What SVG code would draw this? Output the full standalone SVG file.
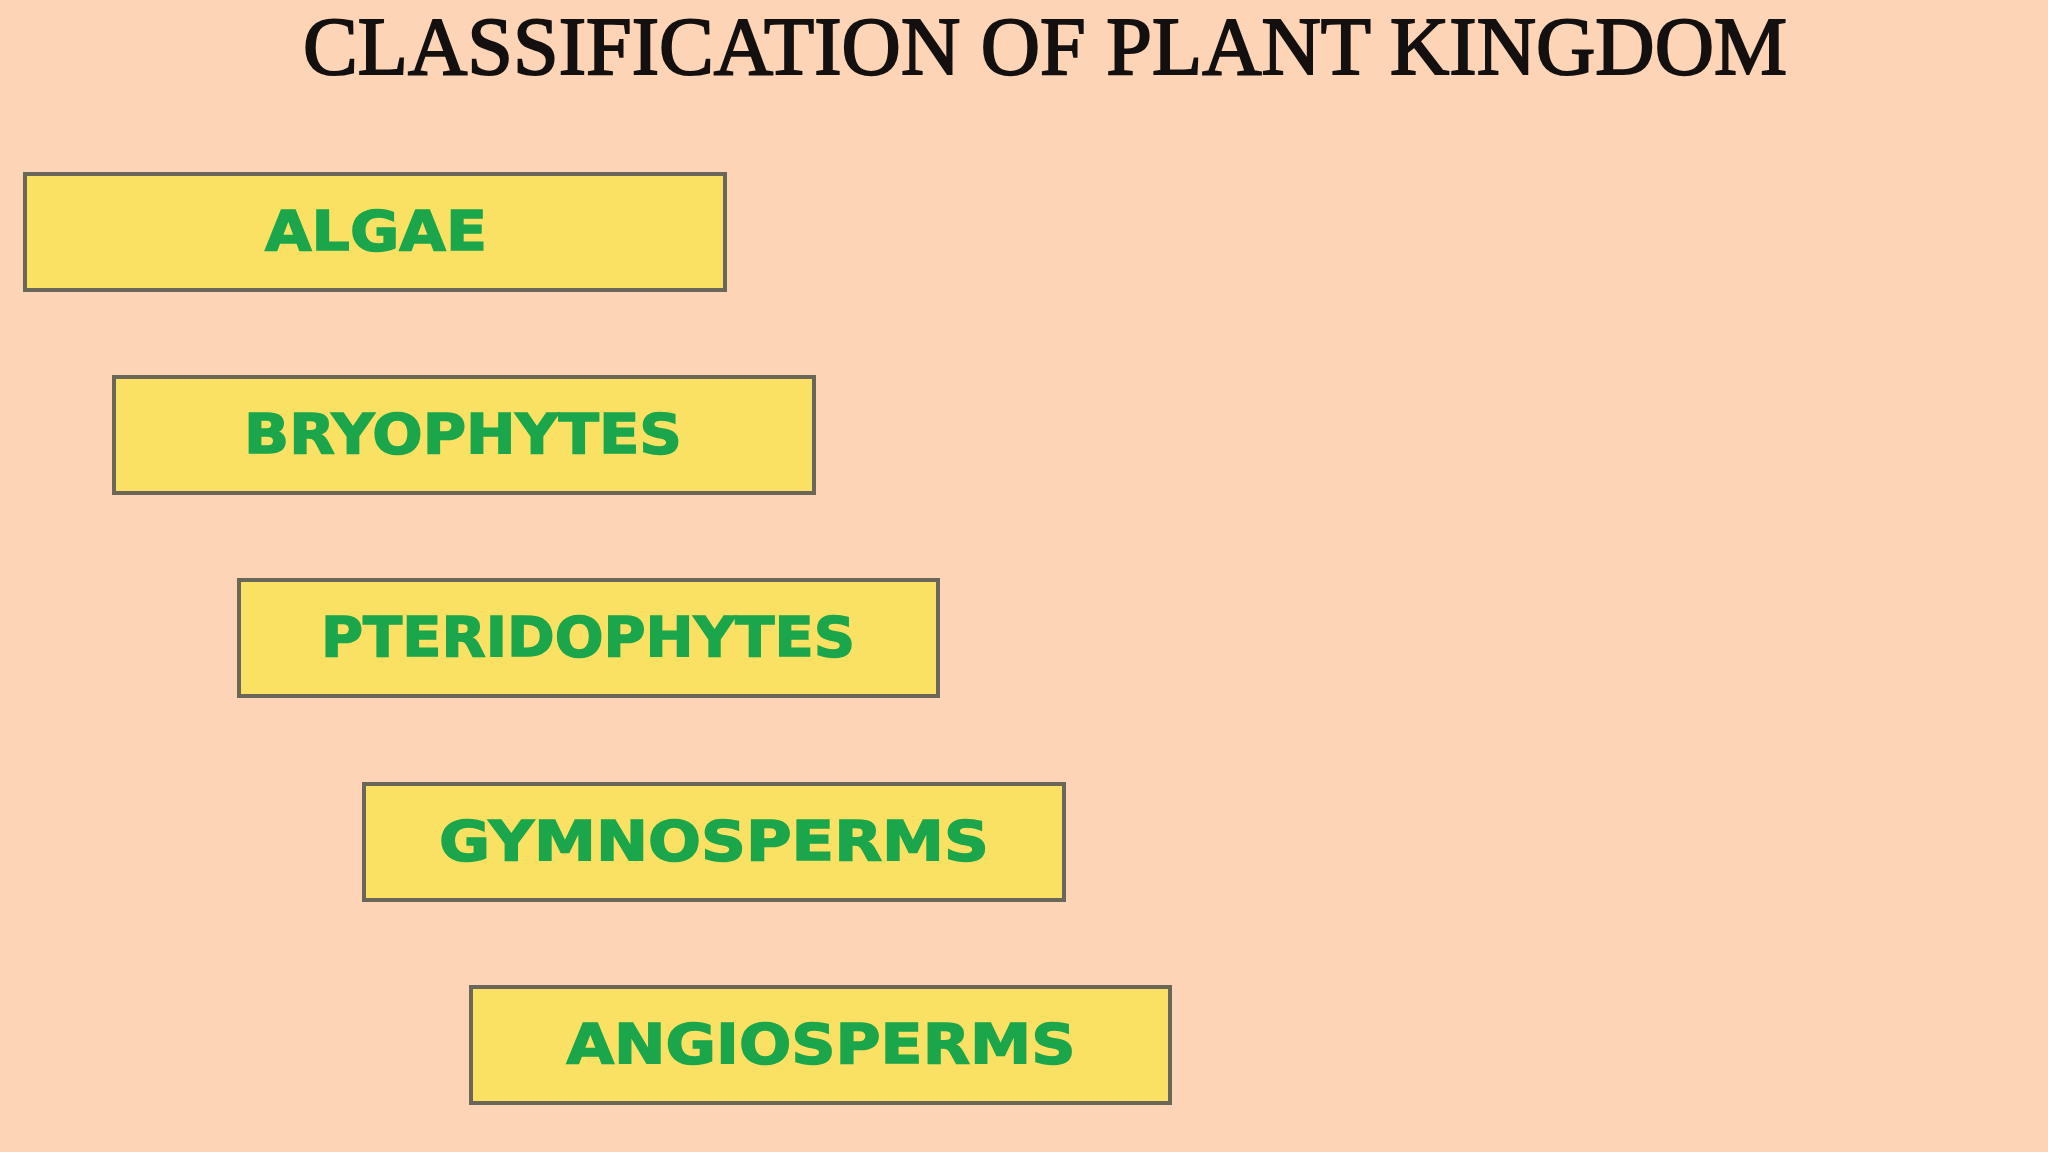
<svg xmlns="http://www.w3.org/2000/svg" width="2048" height="1152" viewBox="0 0 2048 1152">
<style>
.bg{fill:#fdd4b6}
.box{fill:#fbe163;stroke:#6b665a;stroke-width:4}
.lbl{font-family:"DejaVu Sans","Liberation Sans",sans-serif;font-weight:bold;font-size:56px;fill:#1ba64b;stroke:#1ba64b;stroke-width:1.5;text-anchor:middle}
.title{font-family:"Liberation Serif","DejaVu Serif",serif;font-size:83px;fill:#141010;stroke:#141010;stroke-width:2;text-anchor:middle}
</style>
<rect class="bg" x="0" y="0" width="2048" height="1152"/>
<text class="title" x="1045" y="74" textLength="1484" lengthAdjust="spacingAndGlyphs">CLASSIFICATION OF PLANT KINGDOM</text>
<g id="algae">
<rect class="box" x="25" y="174" width="700" height="116"/>
<text class="lbl" x="376" y="250" textLength="222" lengthAdjust="spacingAndGlyphs">ALGAE</text>
</g>
<g id="bryophytes">
<rect class="box" x="114" y="377" width="700" height="116"/>
<text class="lbl" x="463" y="453" textLength="438" lengthAdjust="spacingAndGlyphs">BRYOPHYTES</text>
</g>
<g id="pteridophytes">
<rect class="box" x="239" y="580" width="699" height="116"/>
<text class="lbl" x="588" y="656" textLength="534" lengthAdjust="spacingAndGlyphs">PTERIDOPHYTES</text>
</g>
<g id="gymnosperms">
<rect class="box" x="364" y="784" width="700" height="116"/>
<text class="lbl" x="714" y="860" textLength="550" lengthAdjust="spacingAndGlyphs">GYMNOSPERMS</text>
</g>
<g id="angiosperms">
<rect class="box" x="471" y="987" width="699" height="116"/>
<text class="lbl" x="821" y="1063" textLength="509" lengthAdjust="spacingAndGlyphs">ANGIOSPERMS</text>
</g>
<g id="connectors"></g>
</svg>
